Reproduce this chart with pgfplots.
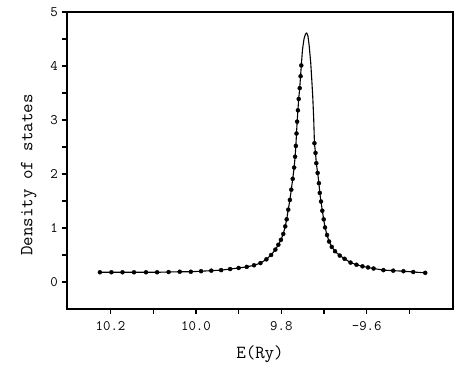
\documentclass[border=0pt]{standalone}
\usepackage{fontspec}
\usepackage{pgfplots}
\pgfplotsset{compat=1.18}
\usepackage{pgfplotstable}

\pgfplotstableread{
x y
-10.225 0.18
-10.198 0.18
-10.172 0.18
-10.145 0.18
-10.117 0.18
-10.091 0.18
-10.064 0.185
-10.038 0.19
-10.012 0.19
-9.988 0.20
-9.964 0.21
-9.941 0.22
-9.920 0.24
-9.900 0.26
-9.881 0.28
-9.864 0.31
-9.849 0.35
-9.835 0.42
-9.824 0.50
-9.814 0.60
-9.807 0.69
-9.801 0.78
-9.7955 0.89
-9.7908 1.03
-9.7875 1.16
-9.7838 1.34
-9.7800 1.52
-9.7767 1.71
-9.7734 1.91
-9.7700 2.12
-9.7678 2.32
-9.7660 2.52
-9.7645 2.75
-9.7630 2.97
-9.7612 3.18
-9.7594 3.39
-9.7570 3.59
-9.7550 3.81
-9.7533 4.01
-9.7225 2.57
-9.7200 2.39
-9.7181 2.20
-9.7150 2.02
-9.7120 1.83
-9.7100 1.65
-9.7071 1.49
-9.7041 1.32
-9.7008 1.16
-9.6977 1.01
-9.6930 0.87
-9.6882 0.75
-9.6820 0.65
-9.6743 0.57
-9.6633 0.49
-9.652 0.43
-9.638 0.36
-9.624 0.32
-9.610 0.29
-9.597 0.27
-9.584 0.25
-9.561 0.22
-9.538 0.21
-9.514 0.20
-9.491 0.185
-9.463 0.17
}\dotsdata

\pgfplotstableread{
x y
-10.225 0.18
-10.198 0.18
-10.172 0.18
-10.145 0.18
-10.117 0.18
-10.091 0.18
-10.064 0.185
-10.038 0.19
-10.012 0.19
-9.988 0.20
-9.964 0.21
-9.941 0.22
-9.920 0.24
-9.900 0.26
-9.881 0.28
-9.864 0.31
-9.849 0.35
-9.835 0.42
-9.824 0.50
-9.814 0.60
-9.807 0.69
-9.801 0.78
-9.7955 0.89
-9.7908 1.03
-9.7875 1.16
-9.7838 1.34
-9.7800 1.52
-9.7767 1.71
-9.7734 1.91
-9.7700 2.12
-9.7678 2.32
-9.7660 2.52
-9.7645 2.75
-9.7630 2.97
-9.7612 3.18
-9.7594 3.39
-9.7570 3.59
-9.7550 3.81
-9.7533 4.01
-9.7505 4.30
-9.7470 4.50
-9.7435 4.59
-9.7406 4.61
-9.7378 4.56
-9.7350 4.39
-9.7312 4.06
-9.7290 3.78
-9.7265 3.44
-9.7242 3.02
-9.7225 2.57
-9.7200 2.39
-9.7181 2.20
-9.7150 2.02
-9.7120 1.83
-9.7100 1.65
-9.7071 1.49
-9.7041 1.32
-9.7008 1.16
-9.6977 1.01
-9.6930 0.87
-9.6882 0.75
-9.6820 0.65
-9.6743 0.57
-9.6633 0.49
-9.652 0.43
-9.638 0.36
-9.624 0.32
-9.610 0.29
-9.597 0.27
-9.584 0.25
-9.561 0.22
-9.538 0.21
-9.514 0.20
-9.491 0.185
-9.463 0.17
}\linedata

\begin{document}
\begin{tikzpicture}
\useasboundingbox (-67bp,-61bp) rectangle (407bp,309bp);
\begin{axis}[
  at={(0,0)}, anchor=south west,
  scale only axis, width=386bp, height=297bp,
  xmin=-10.302, xmax=-9.398, ymin=-0.5, ymax=5,
  xtick={-10.2,-10.0,-9.8,-9.6},
  xticklabels={10.2,10.0,9.8,-9.6},
  minor xtick={-10.1,-9.9,-9.7,-9.5},
  ytick={0,1,2,3,4,5},
  minor ytick={0.5,1.5,2.5,3.5,4.5},
  tick pos=left, tick align=outside,
  major tick length=5bp, minor tick length=4.5bp,
  every tick/.style={black, line width=1.1bp},
  axis line style={line width=1.3bp},
  /pgf/number format/assume math mode=true,
  /pgf/number format/fixed,
  ticklabel style={font=\fontsize{14.5}{17}\selectfont\ttfamily, inner sep=1bp},
  yticklabel style={anchor=east, xshift=-3bp},
  xticklabel style={anchor=north, yshift=-6bp},
  xlabel={E(Ry)},
  ylabel={Density of states},
  label style={font=\fontsize{18.5}{21}\selectfont\ttfamily},
  xlabel style={at={(axis description cs:0.5,0)}, anchor=north, yshift=-33bp},
  ylabel style={at={(axis description cs:0,0.451)}, anchor=south, yshift=27bp},
  clip=false,
]
\addplot[black, line width=1.1bp, mark=none] table[x=x,y=y] {\linedata};
\addplot[only marks, mark=*, mark size=2bp, black] table[x=x,y=y] {\dotsdata};
\end{axis}
\end{tikzpicture}
\end{document}
